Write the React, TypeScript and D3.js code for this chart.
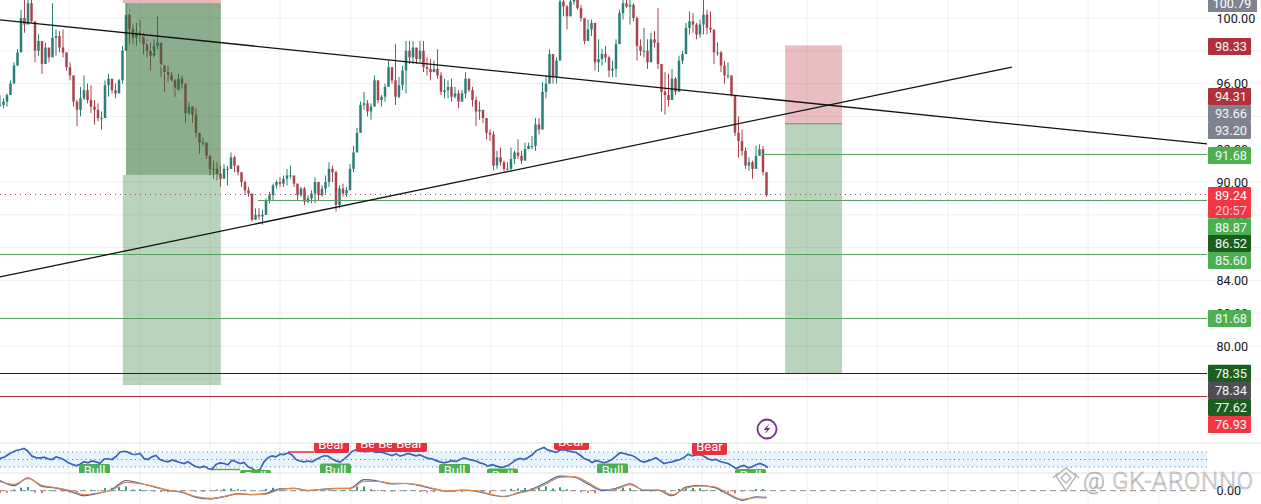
import React from "react";
import * as d3 from "d3";

// price bars, oldest first
const highs = [
  95.3, 95.1, 95.4, 96.2, 97.3, 98.1, 100.5, 101.1, 101.6, 101.3, 99.4, 99.0, 98.5, 98.5, 98.0, 100.9, 99.3, 99.2, 99.3, 97.9,
  97.3, 96.4, 95.0, 95.8, 96.5, 96.0, 95.9, 95.0, 94.8, 94.3, 96.2, 96.6, 96.2, 96.0, 96.3, 98.3, 100.9, 100.5, 99.6, 99.7,
  99.9, 99.1, 98.7, 98.5, 98.7, 100.1, 98.4, 97.1, 97.1, 96.7, 96.3, 96.6, 96.5, 95.7, 94.9, 94.6, 94.5, 92.7, 92.7, 92.4,
  91.6, 91.3, 91.2, 91.0, 91.1, 91.0, 91.8, 91.6, 91.0, 90.6, 90.1, 89.7, 89.1, 88.4, 88.4, 88.3, 89.0, 89.4, 89.9, 90.1,
  90.3, 90.4, 90.8, 91.0, 90.3, 89.9, 89.7, 89.7, 89.2, 89.5, 90.3, 89.9, 89.8, 90.4, 91.2, 91.0, 90.7, 89.8, 89.9, 89.7,
  91.1, 92.2, 93.3, 94.9, 95.5, 95.0, 94.8, 96.5, 95.8, 95.3, 96.0, 97.4, 97.0, 98.4, 96.4, 97.1, 98.6, 98.6, 98.6, 98.1,
  98.6, 98.6, 97.6, 97.5, 97.4, 98.1, 96.7, 96.3, 96.2, 96.3, 95.8, 95.6, 95.6, 96.7, 96.3, 95.8, 95.2, 94.9, 94.2, 93.8,
  93.2, 93.1, 91.9, 92.1, 91.3, 91.2, 92.1, 91.9, 92.6, 91.9, 92.4, 92.4, 92.8, 93.9, 93.9, 96.1, 96.5, 98.1, 97.1, 97.6,
  101.5, 101.9, 100.8, 101.5, 102.0, 101.6, 100.8, 100.0, 99.9, 99.9, 99.4, 98.7, 98.1, 98.3, 97.7, 97.4, 98.7, 100.5, 101.4, 101.6,
  101.3, 100.9, 100.1, 98.7, 99.4, 98.7, 99.1, 99.2, 100.6, 97.1, 96.7, 96.6, 96.9, 96.4, 97.7, 98.0, 99.7, 100.4, 100.3, 99.7,
  99.9, 101.2, 100.5, 100.4, 99.0, 98.5, 98.0, 97.4, 97.3, 96.2, 95.3, 94.0, 93.2, 92.1, 91.5, 91.3, 92.2, 92.3, 92.2, 90.5,
];
const lows = [
  94.6, 94.5, 94.6, 95.4, 96.2, 97.1, 98.1, 99.1, 100.5, 99.7, 97.3, 97.7, 96.6, 97.2, 97.3, 98.5, 97.7, 97.9, 97.6, 96.8,
  96.2, 94.6, 93.4, 94.0, 95.0, 94.8, 94.2, 93.5, 93.7, 93.2, 94.6, 95.2, 95.4, 95.1, 95.7, 96.0, 98.1, 98.4, 98.4, 98.3,
  98.5, 97.8, 97.6, 96.8, 97.6, 98.1, 96.4, 95.5, 96.1, 96.1, 95.2, 95.9, 95.7, 93.6, 94.1, 93.6, 92.7, 91.7, 92.2, 91.4,
  90.4, 90.2, 90.1, 89.7, 90.4, 89.8, 90.8, 90.6, 90.4, 89.7, 89.2, 89.1, 87.6, 87.7, 87.7, 87.4, 88.0, 88.7, 88.9, 89.6,
  89.7, 89.7, 89.8, 90.2, 89.7, 88.9, 89.1, 88.6, 88.7, 88.7, 88.7, 88.9, 89.1, 89.3, 89.7, 90.0, 88.2, 88.4, 89.1, 89.1,
  89.5, 90.6, 92.1, 93.3, 94.4, 94.0, 93.8, 94.6, 94.8, 94.6, 94.9, 95.8, 96.0, 94.7, 95.1, 95.6, 95.4, 97.2, 97.2, 97.2,
  97.3, 96.7, 96.5, 96.2, 96.7, 96.3, 95.3, 95.1, 95.1, 94.9, 95.1, 94.5, 94.9, 95.1, 95.5, 94.6, 93.4, 93.8, 93.6, 92.6,
  92.5, 90.7, 90.8, 91.0, 90.6, 90.7, 90.7, 91.1, 91.4, 91.1, 91.5, 92.0, 92.0, 91.9, 92.9, 93.2, 95.1, 96.5, 96.0, 96.0,
  97.6, 100.1, 99.3, 100.5, 100.8, 100.5, 99.8, 98.4, 98.6, 98.9, 96.8, 96.7, 97.1, 97.3, 96.4, 96.4, 96.4, 98.8, 99.9, 100.6,
  99.6, 99.8, 97.4, 97.7, 97.6, 96.9, 97.4, 98.2, 96.9, 94.3, 94.1, 94.6, 95.7, 95.3, 95.7, 97.2, 98.2, 99.0, 99.1, 98.7,
  98.8, 99.0, 99.0, 99.1, 97.2, 97.7, 96.7, 96.0, 96.3, 95.2, 92.8, 91.5, 91.6, 90.8, 90.7, 90.2, 91.0, 91.6, 90.4, 89.1,
];
const closes = [
  94.7, 94.9, 95.3, 96.0, 97.1, 97.9, 100.0, 99.6, 100.9, 99.8, 98.0, 98.6, 97.2, 98.2, 97.6, 98.8, 98.9, 98.2, 97.9, 97.0,
  96.5, 94.9, 94.4, 95.1, 95.6, 95.0, 94.6, 94.4, 93.9, 93.9, 95.9, 96.3, 95.6, 95.4, 96.2, 98.0, 100.2, 99.3, 98.8, 99.1,
  99.0, 98.4, 98.0, 97.7, 98.3, 98.5, 97.1, 96.7, 96.5, 96.2, 95.6, 96.3, 96.0, 94.2, 94.6, 94.1, 93.0, 92.4, 92.4, 91.6,
  90.8, 90.8, 90.5, 90.2, 90.8, 90.8, 91.5, 91.0, 90.6, 90.0, 89.5, 89.3, 87.7, 88.0, 87.9, 88.0, 88.9, 89.2, 89.8, 90.0,
  89.9, 90.2, 90.4, 90.4, 89.9, 89.2, 89.6, 88.8, 89.0, 89.3, 90.0, 89.2, 89.6, 90.0, 90.8, 90.6, 88.6, 89.6, 89.3, 89.5,
  90.8, 91.8, 93.0, 94.7, 94.8, 94.3, 94.6, 96.2, 95.0, 95.2, 95.8, 97.0, 96.2, 95.2, 95.9, 96.8, 98.0, 97.6, 98.2, 97.5,
  98.0, 97.0, 96.9, 96.7, 96.9, 96.5, 95.5, 95.6, 95.8, 95.2, 95.4, 94.9, 95.4, 96.3, 95.6, 95.0, 94.3, 94.4, 93.9, 93.0,
  92.9, 91.0, 91.5, 91.2, 90.8, 90.8, 91.4, 91.8, 91.6, 91.3, 92.0, 92.2, 92.2, 93.5, 93.2, 95.5, 96.0, 97.8, 96.4, 97.4,
  101.0, 100.7, 100.1, 101.0, 101.4, 100.6, 100.0, 98.6, 99.3, 99.7, 97.3, 97.5, 97.8, 97.6, 96.8, 96.9, 98.4, 100.3, 100.9, 100.7,
  100.8, 100.0, 98.3, 98.0, 98.0, 97.3, 98.7, 98.5, 97.2, 95.5, 95.3, 95.0, 96.3, 95.5, 97.4, 97.8, 99.4, 99.8, 99.6, 99.0,
  99.6, 100.2, 99.4, 99.3, 97.9, 97.9, 97.1, 96.5, 96.5, 95.3, 93.0, 92.5, 91.9, 91.0, 91.2, 90.8, 91.6, 92.0, 90.6, 89.2,
];

const priceTicks = [100, 98, 96, 94, 92, 90, 88, 86, 84, 82, 80, 78];
const rsiGuides = [70, 50, 30];
const gridBars = [19.7, 40, 60, 80, 100.3, 120.3, 140.3, 160.6, 180.6, 200.6, 210.6, 230.6, 250.6, 270.9, 290.9, 310.9, 331.1];

const rsi = [
  52.7, 56, 62.5, 69, 74, 76, 79.4, 72, 58.9, 55, 53.6, 56, 51.8, 50, 57.1, 54, 49.1, 42, 37.5, 33,
  37.5, 44, 41.1, 46, 43.8, 40, 50.9, 52, 50, 58, 69.6, 72, 69.6, 64, 63.4, 66, 52.7, 50, 57.1, 61,
  50, 46, 43.8, 49, 45.6, 42, 39.3, 44, 36.7, 31, 28.6, 32, 26, 24, 36.7, 41, 39.3, 36, 48.2, 44,
  39.3, 42, 30.4, 26, 19.7, 23, 43.8, 55, 59.8, 57, 64.2, 63, 67.8, 62, 50, 46, 43.8, 46, 43.8, 50,
  55.3, 60, 58.9, 52, 46.4, 43, 50.9, 60, 71.4, 76, 74.9, 71, 71.4, 73, 68.7, 70, 67.8, 64, 60.7, 65,
  58.9, 62, 66, 63, 59.8, 62, 57.1, 53, 51.8, 47, 43.8, 41, 43.8, 47, 44.7, 50, 54.5, 51, 48.2, 46,
  41.1, 38, 32.2, 36, 33.1, 29, 30.4, 34, 41.1, 49, 52.7, 50, 55.3, 62, 73.1, 78, 82, 75, 72.3, 69,
  74.9, 76, 73.1, 71, 68.7, 62, 52.7, 49, 42, 47, 44.7, 41, 44.7, 50, 58.9, 68, 66, 63, 60.7, 55,
  46.4, 43, 46.4, 50, 54.5, 47, 39.3, 42, 43.8, 47, 50, 55, 64.2, 60, 62.5, 63, 58.9, 52, 48.2, 50,
  44.7, 42, 39.3, 33, 26, 31, 34, 28, 30.4, 36, 39.3, 35, 28.6,
];
const macdLine = [
  0.85, 0.42, 1.08, 0.36, 0.22, -0.05, -0.42, -0.22, 0.1, 0.85, 0.62, 0.32, 0.03, -0.14, -0.55, -0.68, -0.5, -0.24, -0.33, -0.22,
  0.16, 0.2, 0.0, 0.12, 0.2, 0.2, 0.92, 0.8, 0.56, 0.6, 0.42, 0.14, -0.05, 0.05, -0.03, -0.33, -0.5, -0.18, 0.12, 0.68,
  1.22, 1.14, 0.56, 0.02, 0.2, 0.58, 0.03, 0.04, -0.42, 0.3, 0.42, 0.28, -0.3, -0.8, -0.52, -0.56,
];
const signalLine = [
  0.75, 0.53, 1.0, 0.44, 0.25, 0, -0.33, -0.19, 0.06, 0.69, 0.58, 0.36, 0.06, -0.11, -0.5, -0.64, -0.5, -0.28, -0.31, -0.28,
  0.11, 0.19, 0.03, 0.11, 0.17, 0.17, 0.78, 0.78, 0.61, 0.61, 0.47, 0.17, -0.03, 0.03, 0, -0.28, -0.47, -0.22, 0.06, 0.56,
  1.11, 1.17, 0.69, 0.08, 0.14, 0.5, 0.06, 0.06, -0.33, 0.22, 0.39, 0.33, -0.22, -0.72, -0.58, -0.61,
];
const histogram = [
  -0.2, -0.15, 0.1, 0.25, 0.3, -0.15, -0.2, 0.05, -0.05, -0.05, -0.15, -0.2, 0.03, 0.08, 0.06, 0.22, 0.25, 0.3, 0.35, 0.1,
  0.12, 0.05, -0.06, -0.1, -0.12, -0.06, -0.05, -0.03, -0.08, -0.1, -0.03, 0.1, 0.14, 0.18, 0.12, 0.07, 0.04, -0.04, 0.15, 0.24,
  0.2, 0.03, 0.05, -0.04, -0.05, 0.04, 0.05, 0.1, 0.06, 0.04, 0.1, 0.35, 0.35, 0.12, 0.05, -0.05, -0.07, -0.04, 0.06, 0.03,
  -0.1, -0.14, -0.12, -0.05, -0.04, -0.1, -0.12, 0.03, -0.04, -0.18, -0.22, -0.03, 0.04, 0.15, 0.18, 0.22, 0.2, 0.28, 0.35, 0.18,
  0.28, 0.12, -0.04, -0.12, -0.18, -0.22, -0.05, -0.04, 0.12, 0.25, 0.2, 0.05, 0.04, -0.06, 0.04, -0.08, 0.03, 0.14, 0.2, 0.22,
  0.2, 0.07, 0.03, -0.08, -0.18, -0.22, -0.06, 0.03, 0.14, 0.14,
];

// right hand price tags, top to bottom
const tags = [
  { text: "98.33", y: 46.5, h: 17, fill: "#b2303c" },
  { text: "94.31", y: 96.5, h: 17, fill: "#b2303c" },
  { text: "93.66", y: 113.5, h: 17, fill: "#7f8391" },
  { text: "93.20", y: 130.5, h: 17, fill: "#7f8391" },
  { text: "91.68", y: 155.5, h: 17, fill: "#4caf50" },
  { text: "88.87", y: 227, h: 17.5, fill: "#4caf50" },
  { text: "86.52", y: 243.5, h: 17, fill: "#1b5e20" },
  { text: "85.60", y: 260.5, h: 17, fill: "#4caf50" },
  { text: "81.68", y: 318.5, h: 17, fill: "#4caf50" },
  { text: "78.35", y: 373.5, h: 17.5, fill: "#1b5e20" },
  { text: "78.34", y: 390.5, h: 17, fill: "#4e4e54" },
  { text: "77.62", y: 407.5, h: 17, fill: "#1b5e20" },
  { text: "76.93", y: 424.5, h: 17, fill: "#f23645" },
];
const bullTags = [
  { x0: 79, top: 464 }, { x0: 240, top: 470 }, { x0: 320, top: 463.5 }, { x0: 439, top: 464 },
  { x0: 487, top: 468.5 }, { x0: 597, top: 463.5 }, { x0: 735, top: 469 },
];
const bearTags = [
  { x0: 314, bottom: 453 }, { x0: 356, bottom: 452 }, { x0: 374, bottom: 452 }, { x0: 392, bottom: 452 },
  { x0: 554, bottom: 450 }, { x0: 692, bottom: 455 },
];

const W = 1261;
const H = 504;
const AXIS_X = 1207;
const FONT = "Roboto, sans-serif";

const x = d3.scaleLinear().domain([0, 100]).range([0, 350]);
const y = d3.scaleLinear().domain([100, 80]).range([18, 346]);
const rsiY = d3.scaleLinear().domain([30, 70]).range([467, 452]);
const macdY = d3.scaleLinear().domain([-1, 1]).range([502.7, 478.7]);

const rsiPath = d3.line<number>().x((_, i) => i * 4).y(d => rsiY(d));
const macdPath = d3.line<number>().x((_, i) => x(Math.min(i * 4, 219))).y(d => macdY(d)).curve(d3.curveMonotoneX);

const UP = "#2b7f77";
const DOWN = "#a8444f";
const GRID = "#eff0f2";
const LEVEL = "#57a05f";

export default function App() {
  return (
    <svg width={W} height={H} style={{ position: "fixed", left: 0, top: 0, background: "#fff" }} fontFamily={FONT}>
      <defs>
        <clipPath id="rsiPane"><rect x={0} y={443} width={W} height={30} /></clipPath>
      </defs>

      {/* grid */}
      {gridBars.map(b => <line key={b} x1={x(b)} x2={x(b)} y1={0} y2={H} stroke={GRID} />)}
      {priceTicks.map(p => <line key={p} x1={0} x2={W} y1={y(p)} y2={y(p)} stroke={GRID} />)}
      <line x1={0} x2={W} y1={443} y2={443} stroke="#dfe1e5" />
      <line x1={0} x2={W} y1={473} y2={473} stroke="#dfe1e5" />

      {/* candles */}
      {closes.map((c, i) => {
        const open = i ? closes[i - 1] : c;
        const col = c >= open ? UP : DOWN;
        const top = y(Math.max(open, c));
        return (
          <g key={i} stroke="none" fill={col}>
            <rect x={x(i) - 0.5} width={1} y={y(highs[i])} height={y(lows[i]) - y(highs[i])} />
            <rect x={x(i) - 1.25} width={2.5} y={top} height={Math.max(1, y(Math.min(open, c)) - top)} />
          </g>
        );
      })}

      {/* long / short boxes */}
      <rect x={x(35.1)} width={x(63.1) - x(35.1)} y={0} height={y(100.91)} fill="#b22833" opacity={0.33} />
      <rect x={x(36)} width={x(63.1) - x(36)} y={y(100.91)} height={y(90.43) - y(100.91)} fill="#2e6932" opacity={0.55} />
      <rect x={x(35.1)} width={x(63.1) - x(35.1)} y={y(90.43)} height={y(77.62) - y(90.43)} fill="#2e7d32" opacity={0.33} />
      <line x1={x(36.6)} x2={x(52.4)} y1={y(100.49)} y2={y(94.8)} stroke="#a9c2aa" strokeDasharray="5 4" />
      <rect x={x(224.3)} width={x(240.6) - x(224.3)} y={y(98.33)} height={y(93.55) - y(98.33)} fill="#b22833" opacity={0.3} />
      <rect x={x(224.3)} width={x(240.6) - x(224.3)} y={y(93.55)} height={y(78.35) - y(93.55)} fill="#2e7d32" opacity={0.33} />
      <line x1={x(224.3)} x2={x(240.6)} y1={y(93.55)} y2={y(93.55)} stroke="#6f8a72" />

      {/* levels and trend lines */}
      <g shapeRendering="crispEdges">
        <line x1={0} x2={AXIS_X} y1={y(89.24)} y2={y(89.24)} stroke="#9a5058" strokeDasharray="1 4" />
        <line x1={x(217.7)} x2={AXIS_X} y1={y(91.68)} y2={y(91.68)} stroke={LEVEL} />
        <line x1={x(73.7)} x2={AXIS_X} y1={y(88.87)} y2={y(88.87)} stroke={LEVEL} />
        <line x1={0} x2={AXIS_X} y1={y(85.6)} y2={y(85.6)} stroke={LEVEL} />
        <line x1={0} x2={AXIS_X} y1={y(81.68)} y2={y(81.68)} stroke={LEVEL} />
        <line x1={0} x2={AXIS_X} y1={y(78.35)} y2={y(78.35)} stroke="#222" />
        <line x1={0} x2={AXIS_X} y1={y(76.93)} y2={y(76.93)} stroke="#a8323e" />
      </g>
      <line x1={0} x2={AXIS_X} y1={y(99.88)} y2={y(92.32)} stroke="#111" strokeWidth={1.3} />
      <line x1={0} x2={x(289.1)} y1={y(84.21)} y2={y(97.01)} stroke="#111" strokeWidth={1.3} />

      {/* lightning marker */}
      <circle cx={767} cy={429} r={9.5} fill="#fff" stroke="#7b2d8e" strokeWidth={1.8} />
      <path d="M769.5 423.5 L763.5 430 L767 430 L764.5 434.5 L770.5 428 L767 428 Z" fill="#7b2d8e" />

      {/* RSI pane */}
      <rect x={0} width={AXIS_X} y={rsiY(70)} height={rsiY(30) - rsiY(70)} fill="#e3f2fd" opacity={0.85} />
      {rsiGuides.map(g => (
        <line key={g} x1={0} x2={AXIS_X} y1={rsiY(g)} y2={rsiY(g)} stroke="#6b7280" strokeDasharray="1 3.5" />
      ))}
      <g clipPath="url(#rsiPane)">
        <line x1={212} x2={240} y1={469.5} y2={469.5} stroke="#4caf50" strokeWidth={1.5} />
        <line x1={288} x2={314} y1={452} y2={452} stroke="#e5303f" strokeWidth={1.5} />
        <path d={rsiPath(rsi) ?? ""} fill="none" stroke="#3a63b8" strokeWidth={1.7} />
        {bullTags.map(t => (
          <g key={t.x0}>
            <rect x={t.x0} width={31} y={t.top} height={18} rx={2} fill="#4caf50" />
            <text x={t.x0 + 15.5} y={t.top + 11} textAnchor="middle" fontSize={13} fill="#fff">Bull</text>
          </g>
        ))}
        {bearTags.map(t => (
          <g key={t.x0}>
            <rect x={t.x0} width={35} y={t.bottom - 18} height={18} rx={2} fill="#e5303f" />
            <text x={t.x0 + 17.5} y={t.bottom - 4} textAnchor="middle" fontSize={13} fill="#fff">Bear</text>
          </g>
        ))}
      </g>

      {/* MACD pane */}
      <line x1={0} x2={AXIS_X} y1={macdY(0)} y2={macdY(0)} stroke="#8a8a8a" strokeDasharray="6 4" />
      {histogram.map((v, i) => (
        <rect
          key={i}
          x={x(i * 2) - 1}
          width={2}
          y={Math.min(macdY(v), macdY(0))}
          height={Math.abs(macdY(v) - macdY(0))}
          fill={v >= 0 ? "#2a9d8f" : "#ef6a6f"}
        />
      ))}
      <path d={macdPath(macdLine) ?? ""} fill="none" stroke="#3d63b5" strokeWidth={1.2} />
      <path d={macdPath(signalLine) ?? ""} fill="none" stroke="#e08a4e" strokeWidth={1.2} />

      {/* price axis */}
      {priceTicks.filter(p => p !== 78).map(p => (
        <text key={p} x={1216.5} y={y(p) + 4.5} fontSize={12.6} fill="#131722">{p.toFixed(2)}</text>
      ))}
      <text x={1216.5} y={494.5} fontSize={12.6} fill="#131722">0.00</text>
      <rect x={1208} width={49} y={0} height={12} fill="#7f8391" />
      <text x={1232} y={7.5} textAnchor="middle" fontSize={12.6} fill="#fff">100.79</text>
      {tags.map(t => (
        <g key={t.text}>
          <rect x={1208} width={43} y={t.y - t.h / 2} height={t.h} rx={1} fill={t.fill} />
          <text x={1231} y={t.y + 4.5} textAnchor="middle" fontSize={12.8} fill="#f4f6f4">{t.text}</text>
        </g>
      ))}
      <rect x={1208} width={43} y={187} height={31} rx={1} fill="#f23645" />
      <text x={1231} y={200} textAnchor="middle" fontSize={12.8} fill="#fff">89.24</text>
      <text x={1231} y={214.5} textAnchor="middle" fontSize={12.8} fill="#ffc4c9">20:57</text>

      {/* watermark */}
      <g fill="none" stroke="#b4b4b4" strokeWidth={1.4}>
        <path d="M1066 468 L1076 476 L1066 491 L1056 476 Z" />
        <path d="M1066 473 L1071 478 L1066 483 L1061 478 Z" />
        <path d="M1053 478 L1058 473 M1079 478 L1074 473" />
      </g>
      <text x={1083} y={489} fontSize={24} fontWeight={300} fill="#bdbdbd" fillOpacity={0.55} stroke="#a2a2a2" strokeWidth={0.5}>@</text>
      <text x={1112} y={488.5} fontSize={24} fontWeight={300} fill="#cfcfcf" fillOpacity={0.5} stroke="#a2a2a2" strokeWidth={0.5} textLength={141}>GK-ARONNO</text>
    </svg>
  );
}
